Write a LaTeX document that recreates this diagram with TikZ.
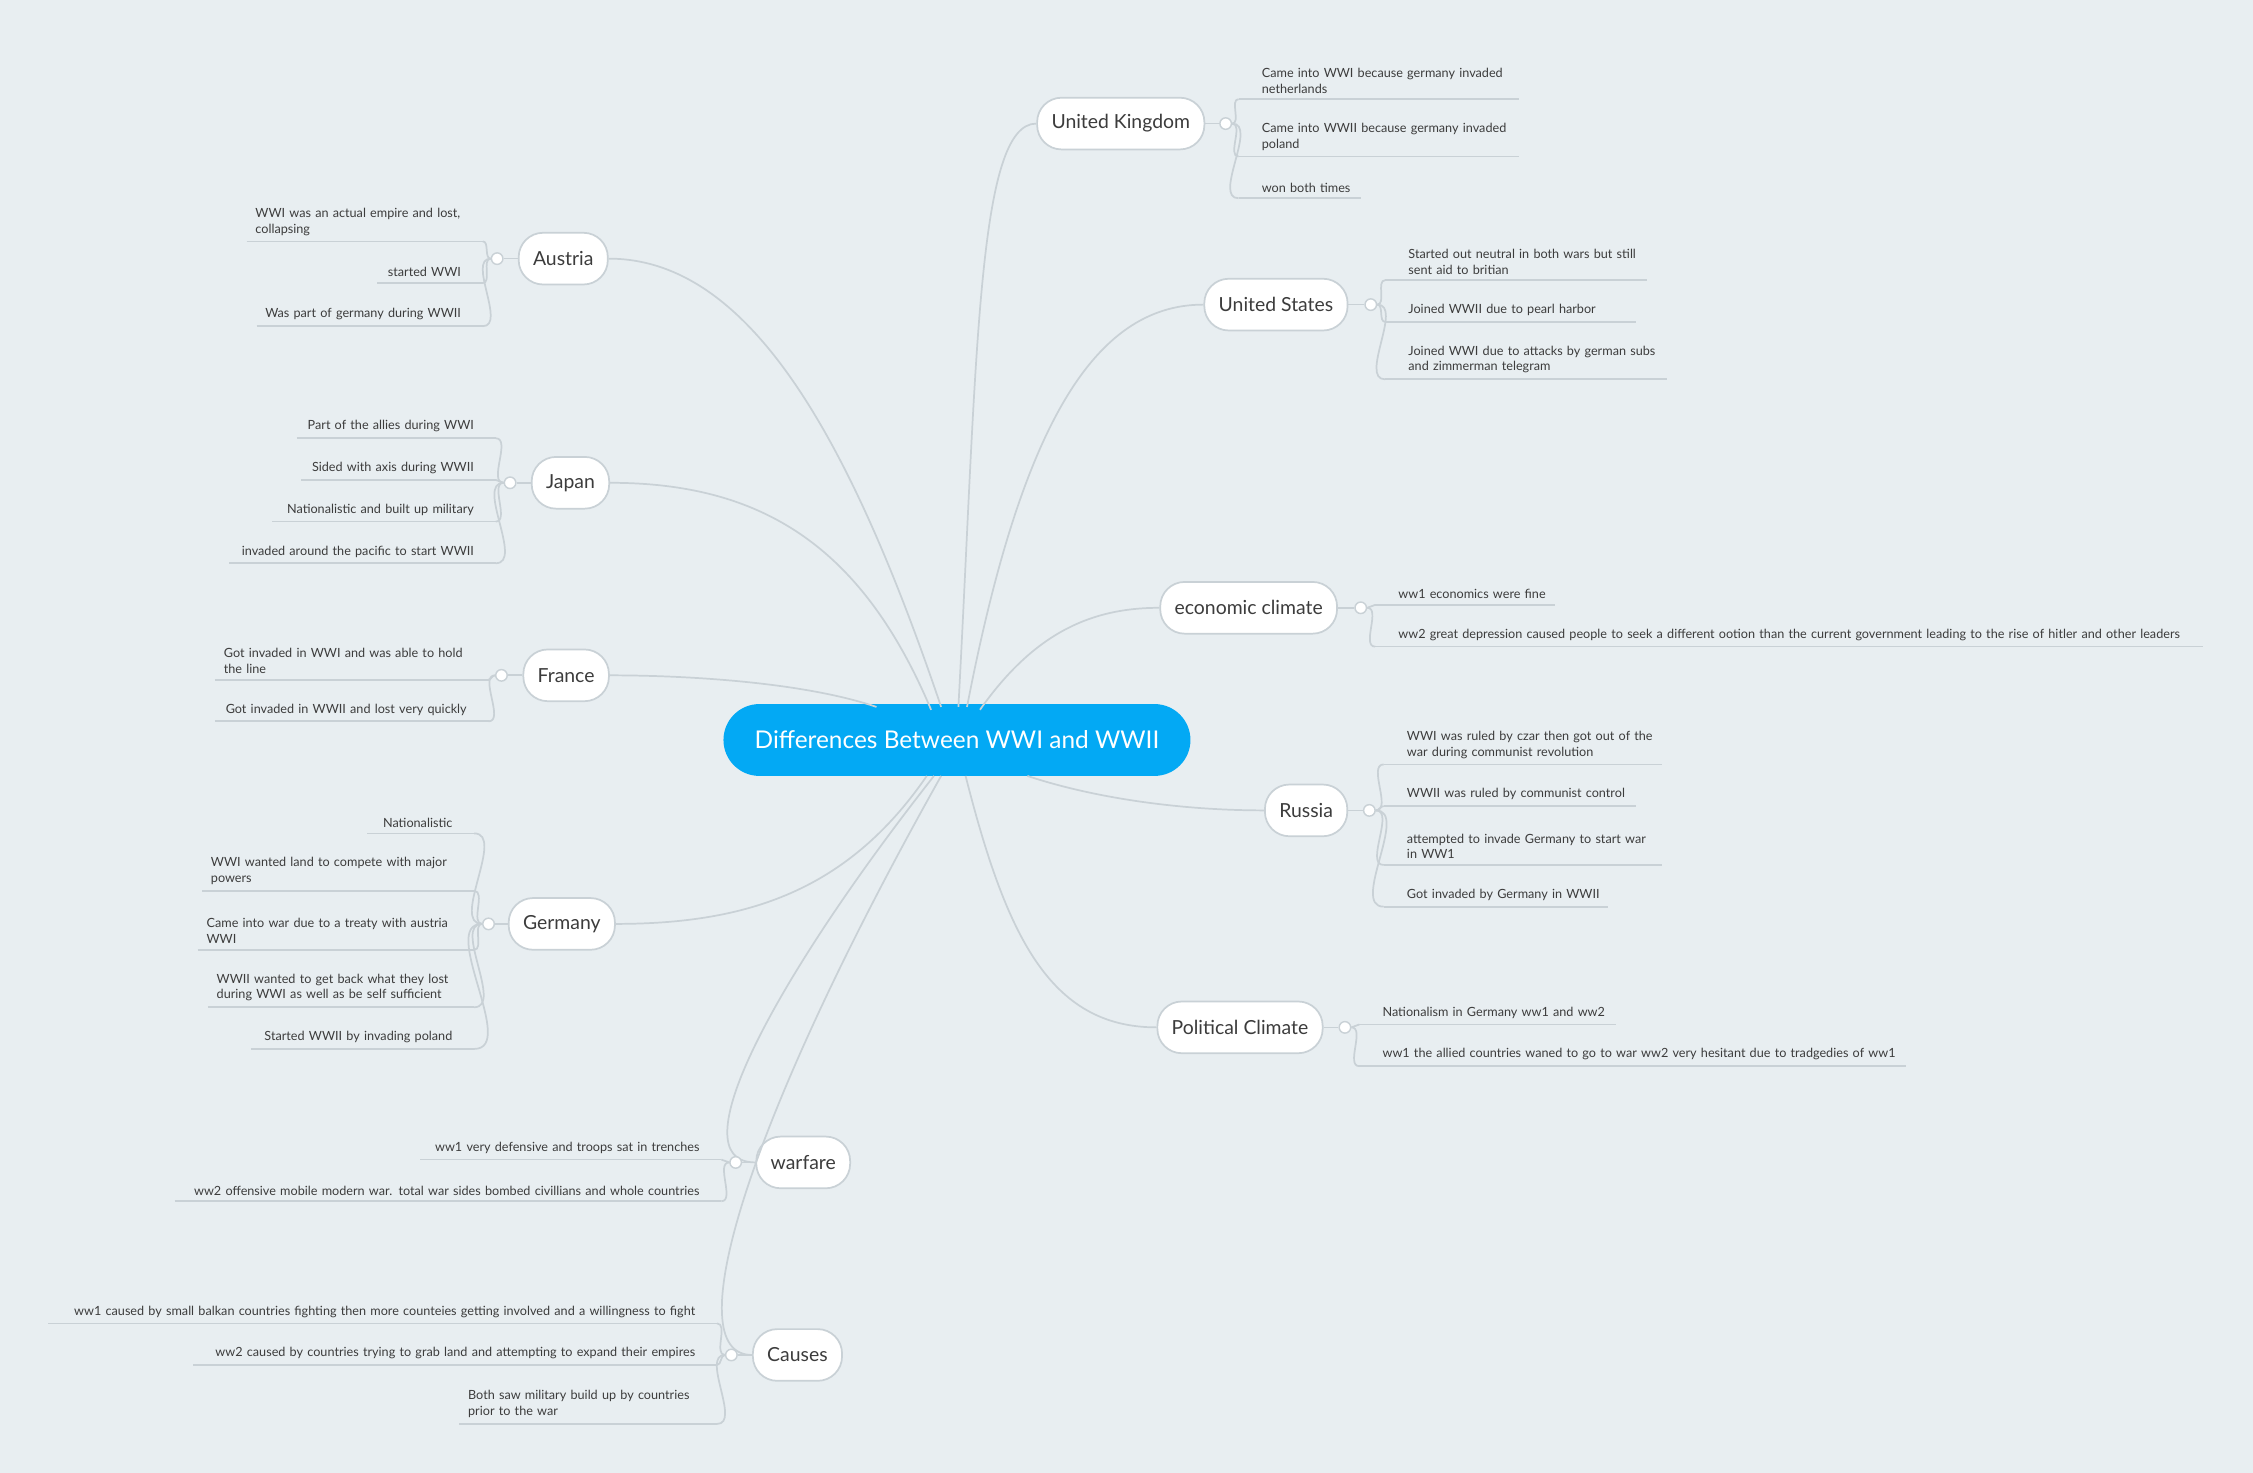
\documentclass[tikz,border=0pt]{standalone}
\usepackage{fontspec}
\setmainfont{Lato}
\definecolor{bg}{HTML}{E8EEF1}
\definecolor{ln}{HTML}{C9D1D6}
\definecolor{tx}{HTML}{3C3C3C}
\definecolor{cb}{HTML}{03A9F4}
\tikzset{
 conn/.style={draw=ln, line width=1.2pt},
 topic/.style={draw=ln, line width=1.2pt, fill=white, rounded corners=17pt, minimum height=36pt, inner xsep=10pt, font=\fontsize{13.5}{16}\selectfont, text=tx},
 leaf/.style={inner xsep=0pt, inner ysep=4pt, font=\fontsize{8.8}{11}\selectfont, text=tx, align=left,
   append after command={(\tikzlastnode.south west) edge[conn] (\tikzlastnode.south east)}},
 dot/.style={circle, draw=ln, fill=white, line width=1pt, inner sep=0pt, minimum size=8pt},
}
\newcommand\rleaf[5]{\node[leaf, anchor=south west, text width=#4pt, execute at begin node={\leftskip=16pt}] (#1) at (#2,#3) {#5};}
\newcommand\lleaf[5]{\node[leaf, anchor=south east, text width=#4pt, execute at begin node={\rightskip=15pt}, align=right] (#1) at (#2,#3) {#5};}
\newcommand\mleaf[5]{\node[leaf, anchor=south east, text width=#4pt, execute at begin node={\leftskip=6pt}] (#1) at (#2,#3) {#5};}
\begin{document}
\begin{tikzpicture}[x=1pt,y=-1pt]
\fill[bg] (0,0) rectangle (1568,1025);
\useasboundingbox (0,0) rectangle (1568,1025);
% center
\node[fill=cb, rounded corners=25pt, minimum width=325pt, minimum height=50pt, text=white, font=\fontsize{17}{20}\selectfont] (cen) at (666,515) {Differences Between WWI and WWII};
% topics
\node[topic] (uk) at (780,86) {United Kingdom};
\node[topic] (us) at (888,212) {United States};
\node[topic] (ec) at (869,423) {economic climate};
\node[topic] (ru) at (909,564) {Russia};
\node[topic] (pc) at (863,715) {Political Climate};
\node[topic] (au) at (392,180) {Austria};
\node[topic] (ja) at (397,336) {Japan};
\node[topic] (fr) at (394,470) {France};
\node[topic] (ge) at (391,643) {Germany};
\node[topic] (wa) at (559,809) {warfare};
\node[topic] (ca) at (555,943) {Causes};
% center connectors
\coordinate (t1) at (667,492); \coordinate (t2) at (673,492); \coordinate (t3) at (682,494);
\coordinate (t4) at (655,492); \coordinate (t5) at (648,494); \coordinate (t6) at (610,492);
\coordinate (b1) at (715,540); \coordinate (b2) at (672,540); \coordinate (b3) at (645,540);
\coordinate (b4) at (650,540); \coordinate (b5) at (655,540);
\draw[conn] (t1) .. controls (680,250) and (680,86) .. (uk.west);
\draw[conn] (t2) .. controls (710,300) and (760,212) .. (us.west);
\draw[conn] (t3) .. controls (720,440) and (760,423) .. (ec.west);
\draw[conn] (b1) .. controls (760,555) and (820,564) .. (ru.west);
\draw[conn] (b2) .. controls (700,650) and (730,715) .. (pc.west);
\draw[conn] (t4) .. controls (590,300) and (520,180) .. (au.east);
\draw[conn] (t5) .. controls (600,380) and (530,336) .. (ja.east);
\draw[conn] (t6) .. controls (560,475) and (480,470) .. (fr.east);
\draw[conn] (b3) .. controls (590,620) and (520,643) .. (ge.east);
\draw[conn] (b4) .. controls (540,680) and (470,809) .. (wa.west);
\draw[conn] (b5) .. controls (520,780) and (470,943) .. (ca.west);
% dots
\node[dot] (duk) at (853,86) {}; \node[dot] (dus) at (954,212) {};
\node[dot] (dec) at (947,423) {}; \node[dot] (dru) at (953,564) {};
\node[dot] (dpc) at (936,715) {}; \node[dot] (dau) at (346,180) {};
\node[dot] (dja) at (355,336) {}; \node[dot] (dfr) at (349,470) {};
\node[dot] (dge) at (340,643) {}; \node[dot] (dwa) at (512,809) {};
\node[dot] (dca) at (509,943) {};
\foreach \a/\b in {uk/duk,us/dus,ec/dec,ru/dru,pc/dpc}{\draw[conn] (\a.east) -- (\b.west);}
\foreach \a/\b in {au/dau,ja/dja,fr/dfr,ge/dge,wa/dwa,ca/dca}{\draw[conn] (\a.west) -- (\b.east);}
% right leaves
\rleaf{uk1}{862}{69}{195}{Came into WWI because germany invaded\\netherlands}
\rleaf{uk2}{862}{109}{195}{Came into WWII because germany invaded\\poland}
\rleaf{uk3}{862}{138}{85}{won both times}
\rleaf{us1}{964}{195}{182}{Started out neutral in both wars but still\\sent aid to britian}
\rleaf{us2}{964}{224}{174}{Joined WWII due to pearl harbor}
\rleaf{us3}{964}{264}{196}{Joined WWI due to attacks by german subs\\and zimmerman telegram}
\rleaf{ec1}{957}{421}{125}{ww1 economics were fine}
\rleaf{ec2}{957}{450}{576}{ww2 great depression caused people to seek a different ootion than the current government leading to the rise of hitler and other leaders}
\rleaf{ru1}{963}{532}{193}{WWI was ruled by czar then got out of the\\war during communist revolution}
\rleaf{ru2}{963}{561}{175}{WWII was ruled by communist control}
\rleaf{ru3}{963}{602}{193}{attempted to invade Germany to start war\\in WW1}
\rleaf{ru4}{963}{631}{156}{Got invaded by Germany in WWII}
\rleaf{pc1}{946}{713}{178}{Nationalism in Germany ww1 and ww2}
\rleaf{pc2}{946}{742}{380}{ww1 the allied countries waned to go to war ww2 very hesitant due to tradgedies of ww1}
% left leaves
\mleaf{au1}{336}{168}{164}{WWI was an actual empire and lost,\\collapsing}
\lleaf{au2}{336}{197}{73}{started WWI}
\lleaf{au3}{336}{227}{157}{Was part of germany during WWII}
\lleaf{ja1}{345}{305}{138}{Part of the allies during WWI}
\lleaf{ja2}{345}{334}{135}{Sided with axis during WWII}
\lleaf{ja3}{345}{363}{155}{Nationalistic and built up military}
\lleaf{ja4}{345}{392}{185}{invaded around the pacific to start WWII}
\mleaf{fr1}{340}{473}{190}{Got invaded in WWI and was able to hold\\the line}
\lleaf{fr2}{340}{502}{190}{Got invaded in WWII and lost very quickly}
\lleaf{ge1}{330}{580}{74}{Nationalistic}
\mleaf{ge2}{330}{620}{189}{WWI wanted land to compete with major\\powers}
\mleaf{ge3}{330}{661}{192}{Came into war due to a treaty with austria\\WWI}
\mleaf{ge4}{330}{701}{185}{WWII wanted to get back what they lost\\during WWI as well as be self sufficient}
\lleaf{ge5}{330}{730}{155}{Started WWII by invading poland}
\lleaf{wa1}{502}{807}{209}{ww1 very defensive and troops sat in trenches}
\lleaf{wa2}{502}{836}{380}{ww2 offensive mobile modern war. total war sides bombed civillians and whole countries}
\lleaf{ca1}{499}{921}{465}{ww1 caused by small balkan countries fighting then more counteies getting involved and a willingness to fight}
\lleaf{ca2}{499}{950}{364}{ww2 caused by countries trying to grab land and attempting to expand their empires}
\mleaf{ca3}{499}{991}{179}{Both saw military build up by countries\\prior to the war}
% leaf connectors
\foreach \d/\l in {duk/uk1,duk/uk2,duk/uk3,dus/us1,dus/us2,dus/us3,dec/ec1,dec/ec2,dru/ru1,dru/ru2,dru/ru3,dru/ru4,dpc/pc1,dpc/pc2}{
  \draw[conn] (\d.east) to[out=0,in=180,looseness=0.9] (\l.south west);}
\foreach \d/\l in {dau/au1,dau/au2,dau/au3,dja/ja1,dja/ja2,dja/ja3,dja/ja4,dfr/fr1,dfr/fr2,dge/ge1,dge/ge2,dge/ge3,dge/ge4,dge/ge5,dwa/wa1,dwa/wa2,dca/ca1,dca/ca2,dca/ca3}{
  \draw[conn] (\d.west) to[out=180,in=0,looseness=0.9] (\l.south east);}
\end{tikzpicture}
\end{document}
